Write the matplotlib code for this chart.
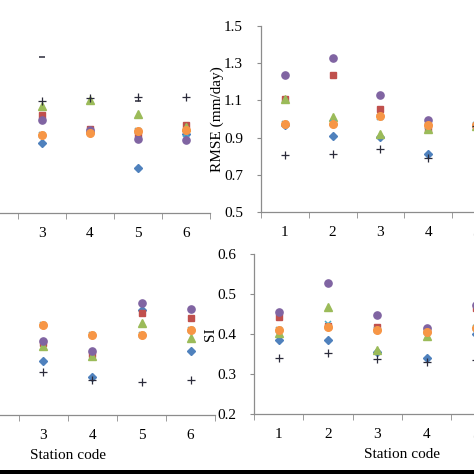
import numpy as np
import matplotlib
matplotlib.use("Agg")
import matplotlib.pyplot as plt
from matplotlib.patches import Rectangle

plt.rcParams['font.family'] = ['Liberation Serif', 'DejaVu Serif']
plt.rcParams['font.size'] = 11

# === data ===
stations = [1, 2, 3, 4, 5, 6]
nan = np.nan

# top-left panel (y axis cut off)
tl_diamond = [0.95, 0.90, 0.871, 0.93, 0.737, 0.92]
tl_square = [1.05, 1.10, 1.023, 0.948, 0.918, 0.970]
tl_triangle = [1.08, 1.12, 1.069, 1.100, 1.025, 0.960]
tl_x = [0.97, 0.95, 0.916, 0.930, 0.935, 0.918]
tl_purple = [1.10, 1.15, 0.997, 0.940, 0.895, 0.889]
tl_orange = [0.97, 0.95, 0.916, 0.925, 0.935, 0.943]
tl_plus = [1.12, 1.15, 1.096, 1.114, 1.118, 1.118]
tl_dash = [nan, nan, 1.332, nan, 1.094, nan]

# top-right panel, RMSE
tr_diamond = [0.970, 0.909, 0.903, 0.814, 0.960, 0.88]
tr_square = [1.110, 1.235, 1.052, 0.945, 0.965, 1.02]
tr_triangle = [1.110, 1.011, 0.921, 0.945, 0.960, 0.97]
tr_x = [0.975, 0.980, 1.010, 0.960, 0.966, 0.95]
tr_purple = [1.234, 1.329, 1.130, 0.993, 0.968, 1.00]
tr_orange = [0.975, 0.975, 1.014, 0.966, 0.966, 0.96]
tr_plus = [0.809, 0.814, 0.837, 0.788, 0.965, 0.79]

# bottom-left panel, SI (y axis cut off)
bl_diamond = [0.36, 0.37, 0.335, 0.295, 0.460, 0.360]
bl_square = [0.40, 0.42, 0.378, 0.352, 0.453, 0.441]
bl_triangle = [0.39, 0.41, 0.372, 0.346, 0.428, 0.392]
bl_x = [0.42, 0.43, 0.4225, 0.3975, 0.399, 0.410]
bl_purple = [0.41, 0.43, 0.383, 0.358, 0.477, 0.4625]
bl_orange = [0.42, 0.43, 0.4225, 0.3975, 0.399, 0.410]
bl_plus = [0.31, 0.30, 0.306, 0.287, 0.283, 0.287]

# bottom-right panel, SI
br_diamond = [0.385, 0.385, 0.355, 0.339, 0.400, 0.38]
br_square = [0.443, 0.420, 0.417, 0.410, 0.465, 0.44]
br_triangle = [0.403, 0.467, 0.360, 0.395, 0.425, 0.41]
br_x = [0.410, 0.425, 0.410, 0.406, 0.415, 0.40]
br_purple = [0.454, 0.527, 0.448, 0.414, 0.472, 0.45]
br_orange = [0.410, 0.417, 0.410, 0.406, 0.415, 0.40]
br_plus = [0.341, 0.352, 0.337, 0.331, 0.335, 0.33]

# marker styles (excel-like)
STYLES = [
    dict(marker='D', color='#4F81BD', ms=4.2),
    dict(marker='s', color='#C0504D', ms=4.5),
    dict(marker='^', color='#9BBB59', ms=5.5),
    dict(marker='x', color='#4BACC6', ms=4.5, mew=1.1),
    dict(marker='o', color='#8064A2', ms=5.2),
    dict(marker='o', color='#F79646', ms=5.5),
    dict(marker='+', color='#2B2B3A', ms=5.5, mew=0.9),
]
SPINE = '#8C8C8C'


def make_panel(rect, series, ylim, yticks, shown, ylabel=None, xlabel=None,
               dash=None, left_labels=True):
    ax = fig.add_axes(rect)
    for vals, st in zip(series, STYLES):
        ax.plot(stations, vals, linestyle='none', **st)
    if dash is not None:
        ax.plot(stations, dash, linestyle='none', marker='_', color='#2B2B3A', ms=4, mew=1.1)
    ax.set_xlim(0.5, 6.5)
    ax.set_ylim(*ylim)
    ax.set_yticks(yticks)
    ax.set_yticklabels([f'{t:.1f}' for t in yticks])
    # only stations that fall inside the picture get a label
    ax.set_xticks(shown)
    ax.set_xticks(np.arange(0.5, 7, 1), minor=True)
    ax.tick_params(axis='x', which='major', length=0, pad=10)
    ax.tick_params(axis='x', which='minor', length=4, color=SPINE, direction='out')
    ax.tick_params(axis='y', length=3, color=SPINE, pad=10, labelleft=left_labels)
    for s in ['top', 'right']:
        ax.spines[s].set_visible(False)
    for s in ['left', 'bottom']:
        ax.spines[s].set_color(SPINE)
        ax.spines[s].set_linewidth(0.9)
    if ylabel:
        ax.set_ylabel(ylabel, labelpad=0)
    if xlabel:
        ax.set_xlabel(xlabel, labelpad=5)
    return ax


fig = plt.figure(figsize=(4.74, 4.74), dpi=100)

rmse_ticks = [0.5, 0.7, 0.9, 1.1, 1.3, 1.5]
si_ticks = [0.2, 0.3, 0.4, 0.5, 0.6]

make_panel([-0.1646, 0.5506, 0.6076, 0.3967],
           [tl_diamond, tl_square, tl_triangle, tl_x, tl_purple, tl_orange, tl_plus],
           (0.5, 1.5), rmse_ticks, [3, 4, 5, 6], dash=tl_dash, left_labels=False)
make_panel([0.5506, 0.5527, 0.605, 0.3924],
           [tr_diamond, tr_square, tr_triangle, tr_x, tr_purple, tr_orange, tr_plus],
           (0.5, 1.5), rmse_ticks, [1, 2, 3, 4, 5], ylabel='RMSE (mm/day)')
make_panel([-0.1667, 0.1245, 0.6203, 0.3397],
           [bl_diamond, bl_square, bl_triangle, bl_x, bl_purple, bl_orange, bl_plus],
           (0.2, 0.6), si_ticks, [3, 4, 5, 6], xlabel='Station code', left_labels=False)
make_panel([0.5359, 0.1266, 0.6241, 0.3376],
           [br_diamond, br_square, br_triangle, br_x, br_purple, br_orange, br_plus],
           (0.2, 0.6), si_ticks, [1, 2, 3, 4, 5], ylabel='SI', xlabel='Station code')

# black strip at the bottom edge
fig.patches.append(Rectangle((0, 0), 1, 4 / 474, transform=fig.transFigure,
                             facecolor='black', edgecolor='none', zorder=10))

fig.savefig('out.png', dpi=100)
